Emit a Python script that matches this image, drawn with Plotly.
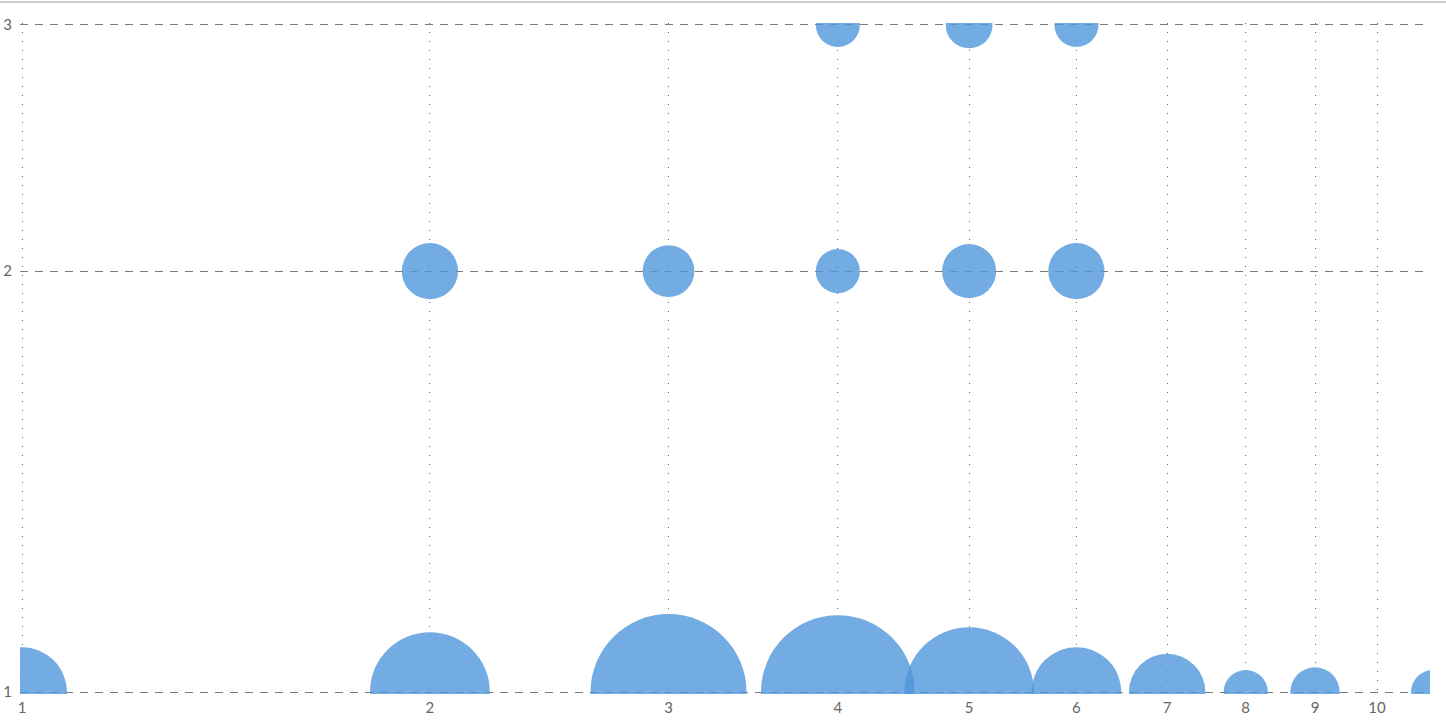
import plotly.graph_objects as go

# bubble data: x position, y level and weight (bubble area)
x_values = [1, 2, 3, 4, 5, 6, 7, 8, 9, 11,
            2, 3, 4, 5, 6,
            4, 5, 6]
y_values = [1, 1, 1, 1, 1, 1, 1, 1, 1, 1,
            2, 2, 2, 2, 2,
            3, 3, 3]
weights = [33, 59, 100, 97, 69, 33, 24, 8, 10, 8,
           13, 11, 8, 12, 13,
           8, 9, 8]

x_ticks = [1, 2, 3, 4, 5, 6, 7, 8, 9, 10]
y_ticks = [1, 2, 3]

BUBBLE_COLOR = "rgb(80,150,220)"
TEXT_COLOR = "#666666"

max_diameter = 156
sizeref = 2.0 * max(weights) / max_diameter ** 2

fig = go.Figure()
fig.add_trace(
    go.Scatter(
        x=x_values,
        y=y_values,
        mode="markers",
        marker={
            "size": weights,
            "sizemode": "area",
            "sizeref": sizeref,
            "color": BUBBLE_COLOR,
            "opacity": 0.8,
            "line": {"width": 0},
        },
        cliponaxis=True,
        hoverinfo="x+y",
        showlegend=False,
    )
)

# ranges padded by a couple of pixels so the edge grid lines are still drawn
fig.update_xaxes(
    type="log",
    range=[-0.0015, 1.0391],
    tickvals=x_ticks,
    ticktext=[str(v) for v in x_ticks],
    showgrid=True,
    gridcolor="#666666",
    griddash="1px,8px",
    gridwidth=1,
    layer="above traces",
    showline=False,
    zeroline=False,
    ticks="",
    ticklabelstandoff=3,
    tickfont={"color": TEXT_COLOR, "size": 15},
)
fig.update_yaxes(
    type="log",
    range=[-0.0014, 0.4785],
    tickvals=y_ticks,
    ticktext=[str(v) for v in y_ticks],
    showgrid=True,
    gridcolor="#7a7a7a",
    griddash="8px,7px",
    gridwidth=1,
    layer="above traces",
    showline=False,
    zeroline=False,
    ticks="",
    ticklabelstandoff=7,
    tickfont={"color": TEXT_COLOR, "size": 15},
)

# thin rule across the very top of the page
fig.add_shape(
    type="line",
    xref="paper",
    yref="paper",
    x0=-0.02,
    x1=1.02,
    y0=1.0313,
    y1=1.0313,
    line={"color": "#999999", "width": 1},
)

fig.update_layout(
    width=1446,
    height=721,
    margin={"l": 20, "r": 16, "t": 23, "b": 27, "autoexpand": False},
    paper_bgcolor="#ffffff",
    plot_bgcolor="#ffffff",
    font={"family": "Lato, Open Sans, sans-serif", "color": TEXT_COLOR, "size": 15},
)

fig.write_html(
    "out.html",
    config={"displayModeBar": False},
    post_script="document.body.style.margin='0';",
)
